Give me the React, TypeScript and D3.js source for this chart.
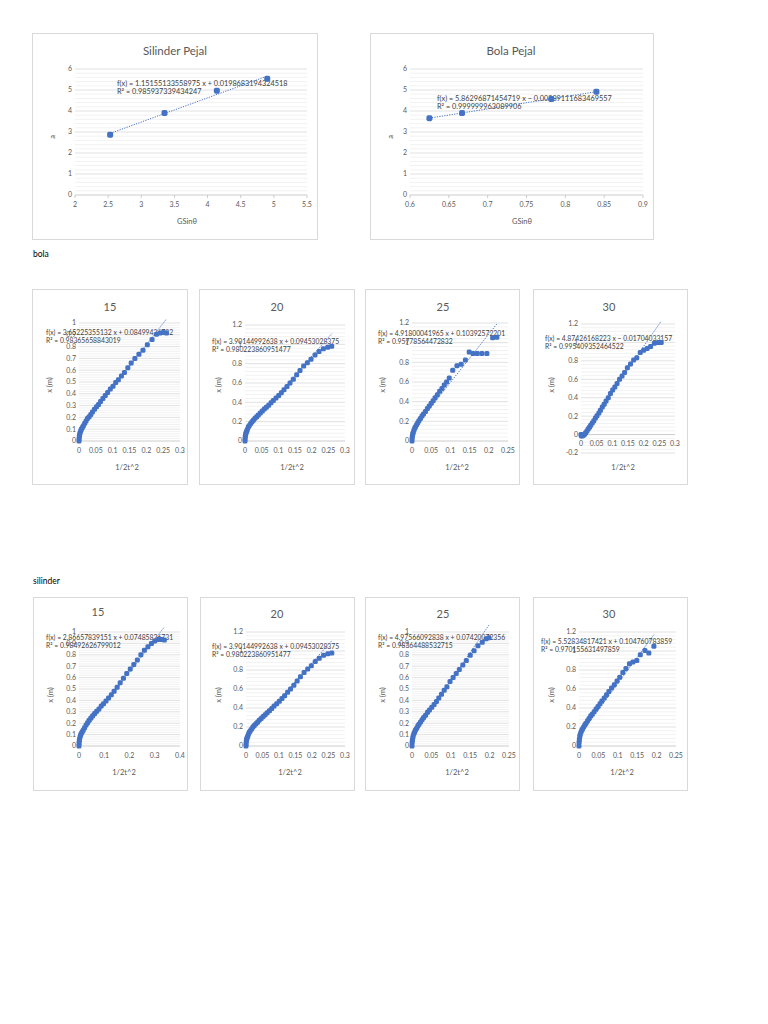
import React from 'react';
import * as d3 from 'd3';

type Pt = [number, number];

// Summary charts: a vs g·sinθ
const SILINDER_PEJAL: Pt[] = [[2.53, 2.87], [3.35, 3.9], [4.14, 4.97], [4.9, 5.53]];
const BOLA_PEJAL: Pt[] = [[0.625, 3.66], [0.667, 3.9], [0.782, 4.57], [0.84, 4.92]];

// bola: x (m) vs 1/2 t^2, per angle
const BOLA_15: Pt[] = [
  [0, 0], [0.0003, 0.02], [0.001, 0.04], [0.002, 0.055], [0.003, 0.07], [0.005, 0.085], [0.007, 0.1], [0.01, 0.115],
  [0.013, 0.13], [0.017, 0.15], [0.021, 0.17], [0.025, 0.19], [0.03, 0.205], [0.035, 0.225], [0.04, 0.245],
  [0.046, 0.27], [0.052, 0.29], [0.058, 0.31], [0.064, 0.335], [0.071, 0.36], [0.078, 0.385], [0.085, 0.41],
  [0.093, 0.44], [0.101, 0.465], [0.109, 0.495], [0.117, 0.52], [0.126, 0.55], [0.135, 0.58], [0.145, 0.62],
  [0.155, 0.66], [0.166, 0.7], [0.178, 0.735], [0.19, 0.77], [0.203, 0.815], [0.217, 0.86], [0.23, 0.905],
  [0.241, 0.915], [0.25, 0.92], [0.26, 0.915],
];
const BOLA_20: Pt[] = [
  [0, 0], [0.0003, 0.025], [0.001, 0.05], [0.002, 0.07], [0.003, 0.085], [0.005, 0.1], [0.007, 0.12], [0.01, 0.145],
  [0.013, 0.16], [0.017, 0.18], [0.021, 0.2], [0.025, 0.215], [0.03, 0.235], [0.035, 0.25], [0.04, 0.27],
  [0.046, 0.29], [0.052, 0.31], [0.058, 0.33], [0.064, 0.35], [0.071, 0.37], [0.078, 0.395], [0.085, 0.42],
  [0.093, 0.445], [0.101, 0.47], [0.109, 0.5], [0.117, 0.53], [0.126, 0.565], [0.135, 0.6], [0.145, 0.64],
  [0.155, 0.685], [0.165, 0.73], [0.176, 0.775], [0.187, 0.81], [0.198, 0.845], [0.21, 0.89], [0.222, 0.925],
  [0.235, 0.955], [0.248, 0.97], [0.26, 0.98],
];
const BOLA_25: Pt[] = [
  [0, 0], [0.0003, 0.03], [0.001, 0.05], [0.002, 0.07], [0.003, 0.085], [0.005, 0.11], [0.007, 0.13], [0.009, 0.145],
  [0.012, 0.165], [0.015, 0.185], [0.018, 0.205], [0.022, 0.23], [0.026, 0.255], [0.03, 0.275], [0.035, 0.3],
  [0.04, 0.33], [0.045, 0.355], [0.05, 0.385], [0.055, 0.41], [0.06, 0.44], [0.066, 0.47], [0.072, 0.505],
  [0.078, 0.535], [0.084, 0.57], [0.09, 0.6], [0.097, 0.64], [0.106, 0.72], [0.117, 0.765], [0.128, 0.78],
  [0.139, 0.825], [0.149, 0.905], [0.159, 0.89], [0.17, 0.89], [0.182, 0.89], [0.195, 0.89], [0.21, 1.05],
  [0.221, 1.055],
];
const BOLA_30: Pt[] = [
  [0, 0], [0.001, -0.01], [0.002, -0.015], [0.004, -0.012], [0.006, -0.01], [0.009, -0.005], [0.012, 0.005],
  [0.015, 0.02], [0.019, 0.04], [0.023, 0.06], [0.027, 0.08], [0.031, 0.1], [0.036, 0.125], [0.041, 0.15],
  [0.046, 0.18], [0.051, 0.205], [0.057, 0.235], [0.062, 0.265], [0.068, 0.3], [0.074, 0.33], [0.08, 0.365],
  [0.087, 0.4], [0.094, 0.445], [0.101, 0.485], [0.108, 0.515], [0.115, 0.555], [0.123, 0.6], [0.131, 0.635],
  [0.139, 0.675], [0.148, 0.725], [0.158, 0.765], [0.168, 0.81], [0.178, 0.835], [0.189, 0.89], [0.2, 0.915],
  [0.211, 0.935], [0.222, 0.955], [0.234, 0.99], [0.246, 1.0], [0.256, 1.0],
];

// silinder: x (m) vs 1/2 t^2, per angle
const SILINDER_15: Pt[] = [
  [0, 0], [0.0004, 0.025], [0.001, 0.045], [0.002, 0.06], [0.004, 0.08], [0.006, 0.095], [0.009, 0.11],
  [0.013, 0.125], [0.017, 0.14], [0.022, 0.16], [0.028, 0.185], [0.034, 0.205], [0.04, 0.225], [0.047, 0.245],
  [0.054, 0.265], [0.062, 0.285], [0.07, 0.305], [0.079, 0.325], [0.088, 0.35], [0.097, 0.37], [0.107, 0.395],
  [0.117, 0.42], [0.128, 0.45], [0.139, 0.48], [0.151, 0.515], [0.163, 0.555], [0.176, 0.595], [0.189, 0.635],
  [0.203, 0.675], [0.217, 0.715], [0.231, 0.755], [0.245, 0.8], [0.259, 0.84], [0.273, 0.87], [0.287, 0.9],
  [0.3, 0.92], [0.314, 0.935], [0.327, 0.935], [0.338, 0.93],
];
const SILINDER_20: Pt[] = BOLA_20; // same run, same fit in the sheet
const SILINDER_25: Pt[] = [
  [0, 0], [0.0003, 0.03], [0.001, 0.05], [0.002, 0.07], [0.003, 0.09], [0.005, 0.11], [0.007, 0.125], [0.009, 0.14],
  [0.012, 0.155], [0.015, 0.175], [0.018, 0.19], [0.022, 0.21], [0.026, 0.23], [0.03, 0.25], [0.035, 0.27],
  [0.04, 0.295], [0.045, 0.315], [0.051, 0.34], [0.057, 0.365], [0.063, 0.39], [0.069, 0.42], [0.076, 0.455],
  [0.083, 0.49], [0.09, 0.52], [0.098, 0.565], [0.106, 0.6], [0.114, 0.635], [0.122, 0.67], [0.131, 0.71],
  [0.14, 0.75], [0.15, 0.795], [0.16, 0.835], [0.17, 0.88], [0.181, 0.91], [0.191, 0.94], [0.198, 0.95],
];
const SILINDER_30: Pt[] = [
  [0, 0], [0.0003, 0.04], [0.001, 0.07], [0.002, 0.1], [0.003, 0.12], [0.005, 0.145], [0.007, 0.165], [0.009, 0.18],
  [0.012, 0.2], [0.015, 0.22], [0.018, 0.24], [0.022, 0.265], [0.026, 0.29], [0.03, 0.315], [0.034, 0.335],
  [0.039, 0.36], [0.044, 0.39], [0.049, 0.415], [0.054, 0.445], [0.059, 0.475], [0.065, 0.505], [0.071, 0.54],
  [0.077, 0.575], [0.084, 0.61], [0.091, 0.645], [0.098, 0.685], [0.105, 0.725], [0.113, 0.775], [0.121, 0.815],
  [0.13, 0.865], [0.139, 0.885], [0.149, 0.9], [0.158, 0.96], [0.17, 1.005], [0.18, 0.98], [0.193, 1.05],
];

// Trendline fits [slope, intercept] and their labels
const FIT_SP: Pt = [1.15155133558975, 0.0198683194324518];
const FIT_BP: Pt = [5.86296871454719, -0.00389111683469557];
const FIT_B15: Pt = [3.65225355132, 0.08499436782];
const FIT_B20: Pt = [3.90144992638, 0.09453028375];
const FIT_B25: Pt = [4.91800041965, 0.10392572201];
const FIT_B30: Pt = [4.87426168223, -0.01704033157];
const FIT_S15: Pt = [2.86657839151, 0.07485826731];
const FIT_S25: Pt = [4.97566092838, 0.07420072356];
const FIT_S30: Pt = [5.52834817421, 0.104760783859];

const EQ_SP = ['f(x) = 1.15155133558975 x + 0.0198683194324518', 'R² = 0.985937339434247'];
const EQ_BP = ['f(x) = 5.86296871454719 x − 0.00389111683469557', 'R² = 0.999999963089906'];
const EQ_B15 = ['f(x) = 3.65225355132 x + 0.08499436782', 'R² = 0.98365658843019'];
const EQ_B20 = ['f(x) = 3.90144992638 x + 0.09453028375', 'R² = 0.980223860951477'];
const EQ_B25 = ['f(x) = 4.91800041965 x + 0.10392572201', 'R² = 0.95778564472832'];
const EQ_B30 = ['f(x) = 4.87426168223 x − 0.01704033157', 'R² = 0.995409352464522'];
const EQ_S15 = ['f(x) = 2.86657839151 x + 0.07485826731', 'R² = 0.98492626799012'];
const EQ_S25 = ['f(x) = 4.97566092838 x + 0.07420072356', 'R² = 0.98364488532715'];
const EQ_S30 = ['f(x) = 5.52834817421 x + 0.104760783859', 'R² = 0.970155631497859'];

const BLUE = '#4472c4';
const FONT = 'Lato, "Open Sans", sans-serif';

interface PanelProps {
  box: [number, number, number, number];
  xr: [number, number];
  yr: [number, number];
  xd: [number, number];
  yd: [number, number];
  xStep: number;
  yStep: number;
  title: string;
  titlePos: [number, number];
  titleSize: number;
  xTitle: string;
  xTitlePos: [number, number];
  yTitle: string;
  yTitlePos: [number, number];
  eq: string[];
  eqPos: [number, number];
  eqGap: number;
  eqSize: number;
  fit: Pt;
  data: Pt[];
  marker: number;
  tickMarks?: boolean;
}

const steps = (lo: number, hi: number, step: number) =>
  d3.range(lo, hi + step / 2, step).map((v) => +v.toFixed(4));
const fmt = (v: number) => String(+v.toFixed(2));

const Panel: React.FC<PanelProps> = (p) => {
  const x = d3.scaleLinear().domain(p.xd).range(p.xr);
  const y = d3.scaleLinear().domain(p.yd).range(p.yr);
  const majors = steps(p.yd[0], p.yd[1], p.yStep);
  const minors = steps(p.yd[0], p.yd[1], p.yStep / 5).filter(
    (v) => !majors.some((m) => Math.abs(m - v) < 1e-6)
  );
  const xTicks = steps(p.xd[0], p.xd[1], p.xStep);
  const axisY = y(Math.max(0, p.yd[0]));
  const xs = p.data.map((d) => d[0]);
  const x0 = d3.min(xs) ?? 0;
  const x1 = d3.max(xs) ?? 0;
  const m = p.marker;
  const line = d3
    .line<number>()
    .x((v) => x(v))
    .y((v) => y(p.fit[0] * v + p.fit[1]));

  return (
    <g>
      <rect x={p.box[0] + 0.5} y={p.box[1] + 0.5} width={p.box[2]} height={p.box[3]} fill="#fff" stroke="#d9d9d9" />
      {minors.map((v) => (
        <line key={'n' + v} x1={p.xr[0]} x2={p.xr[1]} y1={y(v)} y2={y(v)} stroke="#ececec" strokeWidth={0.7} />
      ))}
      {majors.map((v) => (
        <line key={'j' + v} x1={p.xr[0]} x2={p.xr[1]} y1={y(v)} y2={y(v)} stroke={v === 0 ? '#bfbfbf' : '#d9d9d9'} strokeWidth={0.8} />
      ))}
      {majors.map((v) => (
        <text key={'yl' + v} x={p.xr[0] - 3} y={y(v) + 2.4} textAnchor="end" fontSize={7} fill="#595959" fontFamily={FONT}>
          {fmt(v)}
        </text>
      ))}
      {xTicks.map((v) => (
        <g key={'xl' + v}>
          {p.tickMarks && <line x1={x(v)} x2={x(v)} y1={axisY} y2={axisY + 3} stroke="#bfbfbf" strokeWidth={0.8} />}
          <text x={x(v)} y={axisY + 11.5} textAnchor="middle" fontSize={7} fill="#595959" fontFamily={FONT}>
            {fmt(v)}
          </text>
        </g>
      ))}
      <text x={p.titlePos[0]} y={p.titlePos[1]} textAnchor="middle" dominantBaseline="central" fontSize={p.titleSize} fill="#595959" fontFamily={FONT}>
        {p.title}
      </text>
      <text x={p.xTitlePos[0]} y={p.xTitlePos[1]} textAnchor="middle" dominantBaseline="central" fontSize={7.5} fill="#595959" fontFamily={FONT}>
        {p.xTitle}
      </text>
      <text
        transform={`translate(${p.yTitlePos[0]},${p.yTitlePos[1]}) rotate(-90)`}
        textAnchor="middle"
        dominantBaseline="central"
        fontSize={7.5}
        fill="#595959"
        fontFamily={FONT}
      >
        {p.yTitle}
      </text>
      {p.eq.map((t, i) => (
        <text key={'eq' + i} x={p.eqPos[0]} y={p.eqPos[1] + i * p.eqGap} fontSize={p.eqSize} fill="#404040" fontFamily={FONT}>
          {t}
        </text>
      ))}
      {p.data.map((d, i) => (
        <rect key={'pt' + i} x={x(d[0]) - m / 2} y={y(d[1]) - m / 2} width={m} height={m} rx={m * 0.3} fill={BLUE} />
      ))}
      <path d={line([x0, x1]) ?? ''} fill="none" stroke={BLUE} strokeWidth={1} strokeDasharray="1.2,1.3" />
    </g>
  );
};

const small = {
  titleSize: 11,
  xTitle: '1/2t^2',
  yTitle: 'x (m)',
  eqGap: 7.5,
  eqSize: 6.8,
  marker: 5,
};

const App: React.FC = () => (
  <svg width={768} height={1024} style={{ position: 'absolute', left: 0, top: 0, background: '#fff' }}>
    <Panel
      box={[32, 33, 285, 206]}
      xr={[75, 307]}
      yr={[195, 69]}
      xd={[2, 5.5]}
      yd={[0, 6]}
      xStep={0.5}
      yStep={1}
      title="Silinder Pejal"
      titlePos={[175, 50]}
      titleSize={11.5}
      xTitle="GSinθ"
      xTitlePos={[187, 221]}
      yTitle="a"
      yTitlePos={[52, 137]}
      eq={EQ_SP}
      eqPos={[117, 85.5]}
      eqGap={8.5}
      eqSize={7.3}
      fit={FIT_SP}
      data={SILINDER_PEJAL}
      marker={6}
      tickMarks
    />
    <Panel
      box={[370, 33, 283, 206]}
      xr={[410, 643]}
      yr={[195, 69]}
      xd={[0.6, 0.9]}
      yd={[0, 6]}
      xStep={0.05}
      yStep={1}
      title="Bola Pejal"
      titlePos={[511, 50]}
      titleSize={11.5}
      xTitle="GSinθ"
      xTitlePos={[522, 221]}
      yTitle="a"
      yTitlePos={[390, 137]}
      eq={EQ_BP}
      eqPos={[437, 100.5]}
      eqGap={8.5}
      eqSize={7.3}
      fit={FIT_BP}
      data={BOLA_PEJAL}
      marker={6}
      tickMarks
    />

    <text x={33} y={257} fontSize={8.5} fill="#000" fontFamily={FONT}>bola</text>

    <Panel {...small} box={[32, 289, 155, 195]} xr={[79, 180]} yr={[441, 323]} xd={[0, 0.3]} yd={[0, 1]} xStep={0.05} yStep={0.1}
      title="15" titlePos={[110, 306]} xTitlePos={[127, 467]} yTitlePos={[49, 385]} eq={EQ_B15} eqPos={[46, 335]} fit={FIT_B15} data={BOLA_15} />
    <Panel {...small} box={[199, 289, 155, 195]} xr={[245, 345]} yr={[441, 325]} xd={[0, 0.3]} yd={[0, 1.2]} xStep={0.05} yStep={0.2}
      title="20" titlePos={[277, 306]} xTitlePos={[292, 467]} yTitlePos={[218, 385]} eq={EQ_B20} eqPos={[212, 344]} fit={FIT_B20} data={BOLA_20} />
    <Panel {...small} box={[365, 289, 154, 195]} xr={[412, 508]} yr={[441, 323]} xd={[0, 0.25]} yd={[0, 1.2]} xStep={0.05} yStep={0.2}
      title="25" titlePos={[443, 306]} xTitlePos={[457, 467]} yTitlePos={[382, 385]} eq={EQ_B25} eqPos={[378, 336]} fit={FIT_B25} data={BOLA_25} />
    <Panel {...small} box={[533, 289, 154, 195]} xr={[581, 675]} yr={[453, 324]} xd={[0, 0.3]} yd={[-0.2, 1.2]} xStep={0.05} yStep={0.2}
      title="30" titlePos={[609, 306]} xTitlePos={[623, 467]} yTitlePos={[551, 385]} eq={EQ_B30} eqPos={[545, 341]} fit={FIT_B30} data={BOLA_30} />

    <text x={33} y={584} fontSize={8.5} fill="#000" fontFamily={FONT}>silinder</text>

    <Panel {...small} box={[33, 597, 154, 193]} xr={[79, 180]} yr={[746, 632]} xd={[0, 0.4]} yd={[0, 1]} xStep={0.1} yStep={0.1}
      title="15" titlePos={[98, 611]} xTitlePos={[124, 772]} yTitlePos={[50, 695]} eq={EQ_S15} eqPos={[46, 640]} fit={FIT_S15} data={SILINDER_15} />
    <Panel {...small} box={[200, 597, 154, 193]} xr={[246, 345]} yr={[746, 632]} xd={[0, 0.3]} yd={[0, 1.2]} xStep={0.05} yStep={0.2}
      title="20" titlePos={[277, 613]} xTitlePos={[290, 772]} yTitlePos={[218, 695]} eq={EQ_B20} eqPos={[212, 649]} fit={FIT_B20} data={SILINDER_20} />
    <Panel {...small} box={[365, 597, 154, 193]} xr={[412, 509]} yr={[746, 632]} xd={[0, 0.25]} yd={[0, 1]} xStep={0.05} yStep={0.1}
      title="25" titlePos={[443, 613]} xTitlePos={[457, 772]} yTitlePos={[382, 695]} eq={EQ_S25} eqPos={[378, 640]} fit={FIT_S25} data={SILINDER_25} />
    <Panel {...small} box={[533, 597, 154, 193]} xr={[579, 676]} yr={[746, 632]} xd={[0, 0.25]} yd={[0, 1.2]} xStep={0.05} yStep={0.2}
      title="30" titlePos={[609, 613]} xTitlePos={[622, 772]} yTitlePos={[551, 695]} eq={EQ_S30} eqPos={[541, 644]} fit={FIT_S30} data={SILINDER_30} />
  </svg>
);

export default App;
